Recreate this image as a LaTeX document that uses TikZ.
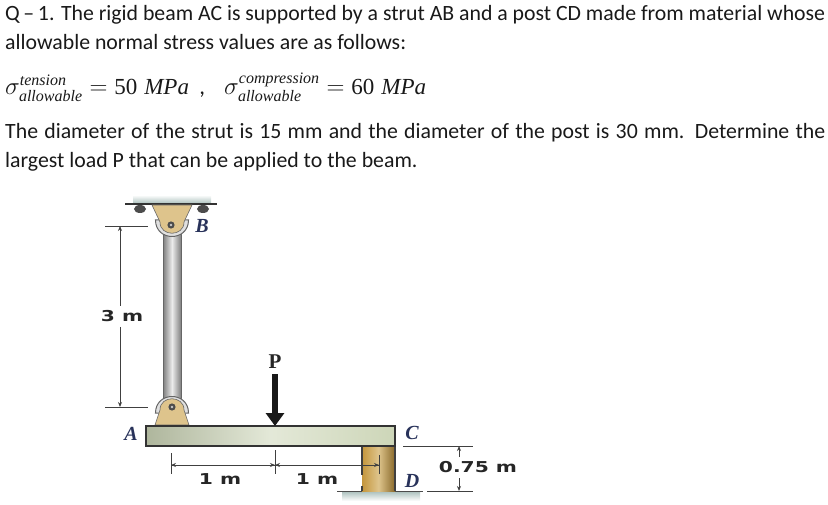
\documentclass[tikz,border=0pt]{standalone}
\usepackage{fontspec}
\usepackage{amsmath}
\setmainfont{Carlito}
\newfontfamily\dimfont{DejaVu Sans}[FakeStretch=1.35]
\newfontfamily\ptfont{Liberation Serif}
\usetikzlibrary{calc,
	positioning,
	arrows.meta}
\DeclareMathSizes{23}{23}{16}{12}
\newcommand{\eqit}[1]{\text{\ptfont\itshape #1}}
\newcommand{\eqrm}[1]{\text{\ptfont #1}}
\definecolor{tan}{RGB}{222,196,140}
\definecolor{postgold}{RGB}{196,150,60}
\definecolor{beamgreen}{RGB}{205,214,184}
\definecolor{letterblue}{RGB}{40,50,90}
\definecolor{soil}{RGB}{168,190,186}
\tikzstyle{body}=[anchor=base west, inner sep=0, font=\fontsize{21.8}{26}\selectfont, text=black!90]
\tikzstyle{eqn}=[anchor=base west, inner sep=0, font=\fontsize{23}{26}\selectfont, text=black!90]
\tikzstyle{pointlbl}=[inner sep=0, text=letterblue, font=\fontsize{20}{22}\ptfont\itshape\bfseries]
\tikzstyle{dimlbl}=[inner sep=0, text=black!85, font=\fontsize{15}{16}\dimfont\bfseries]
\tikzstyle{dim}=[draw=black!75, line width=0.9pt]
\tikzstyle{tick}=[-{Stealth[length=5pt,width=4pt]}, black!75, line width=0.9pt]
\tikzstyle{clevis}=[draw=black!60, fill=tan, line width=0.6pt]
\tikzstyle{collar}=[draw=black!60, fill=black!12, line width=1pt]

\begin{document}
\begin{tikzpicture}[x=1pt, y=-1pt]
	\useasboundingbox (0,0) rectangle (828,505);
	% question text
	\node[body] (line1) at (5,21) {\makebox[820pt][s]{Q\,--\,1. The rigid beam AC is supported by a strut AB and a post CD made from material whose}};
	\node[body] (line2) at (5,50) {allowable normal stress values are as follows:};
	\node[eqn] (eqleft) at (5,95) {$\sigma^{\eqit{tension}}_{\eqit{allowable}}=\eqrm{50}\;\eqit{MPa}$\ \ ,};
	\node[eqn] (eqright) at (224,95) {$\sigma^{\eqit{compression}}_{\eqit{allowable}}=\eqrm{60}\;\eqit{MPa}$};
	\node[body] (line3) at (5,139) {\makebox[820pt][s]{The diameter of the strut is 15 mm and the diameter of the post is 30 mm. Determine the}};
	\node[body] (line4) at (5,168) {largest load P that can be applied to the beam.};
	% ceiling and ground
	\shade[top color=white, bottom color=soil] (133,195) rectangle (211,204);
	\fill[black!70] (140,209) ellipse (6 and 4);
	\fill[black!70] (203,209) ellipse (6 and 4);
	\draw[black!80, line width=1.4pt] (125,204) -- (217,204);
	\shade[top color=soil, bottom color=white] (342,491) rectangle (420,501);
	\draw[black!70, line width=1pt] (337,491) -- (423,491);
	% strut
	\shade[left color=black!50, right color=black!50, middle color=black!8, draw=black!60] (163,234) rectangle (181,400);
	\draw[collar] (155.5,220) .. controls (155.5,242) and (188.5,242) .. (188.5,220) -- cycle;
	\draw[clevis] (152,205) -- (192,205) -- (184,222) .. controls (184,237) and (160,237) .. (160,222) -- cycle;
	\fill[black!70] (171,225) circle (3.6);
	\fill[black!20] (171,225) circle (1.4);
	\draw[collar] (155.5,413) .. controls (155.5,391) and (188.5,391) .. (188.5,413) -- cycle;
	\draw[clevis] (155,425) -- (160,410) .. controls (160,395) and (184,395) .. (184,410) -- (189,425) -- cycle;
	\fill[black!70] (172,407) circle (3.6);
	\fill[black!20] (172,407) circle (1.4);
	% beam and post
	\shade[left color=postgold, right color=postgold!70!black, middle color=tan] (362,446) rectangle (395,491);
	\draw[black!75, line width=1.2pt] (362,446) -- (362,475) (362,486) -- (362,491) (395,446) -- (395,491);
	\shade[left color=beamgreen!85!black, right color=beamgreen, middle color=beamgreen!55!white, draw=black!80, line width=1.8pt] (146,426) rectangle (395,446);
	% load
	\coordinate (ptop) at (275,374);
	\coordinate (pend) at (275,426);
	\draw[-{Triangle[length=13pt,width=18pt]}, black!90, line width=6.5pt] (ptop) -- (pend);
	\node[inner sep=0, font=\fontsize{21}{22}\ptfont\bfseries, text=black!85] (load) at (275,362) {P};
	% letters
	\node[pointlbl] (ptA) at (131,434) {A};
	\node[pointlbl] (ptB) at (202,226) {B};
	\node[pointlbl] (ptC) at (412,433) {C};
	\node[pointlbl] (ptD) at (412,481) {D};
	% 3 m
	\coordinate (htopl) at (105,226);
	\coordinate (htopr) at (148,226);
	\coordinate (hbotl) at (105,407);
	\coordinate (hbotr) at (148,407);
	\node[dimlbl] (hlbl) at (122,316) {3 m};
	\draw[dim] (htopl) -- (htopr) (hbotl) -- (hbotr);
	\draw[tick] (120,306) -- (120,226);
	\draw[tick] (120,327) -- (120,407);
	% 1 m, 1 m
	\coordinate (w1) at (171,465);
	\coordinate (w2) at (275,465);
	\coordinate (w3) at (379,465);
	\draw[dim] (171,453) -- (171,474) (275,450) -- (275,474) (379,455) -- (379,474);
	\draw[tick] (w2) -- (w1);
	\draw[tick] (w1) -- (w2);
	\draw[tick] (w3) -- (w2);
	\draw[tick] (w2) -- (w3);
	\node[dimlbl] (wlbl1) at (220,479) {1 m};
	\node[dimlbl] (wlbl2) at (317,479) {1 m};
	% 0.75 m
	\coordinate (vtopl) at (403,446);
	\coordinate (vtopr) at (473,446);
	\coordinate (vbotl) at (427,491);
	\coordinate (vbotr) at (473,491);
	\draw[dim] (vtopl) -- (vtopr) (vbotl) -- (vbotr);
	\draw[tick] (459,457) -- (459,446);
	\draw[tick] (459,478) -- (459,491);
	\node[dimlbl] (vlbl) at (478,467) {0.75 m};
\end{tikzpicture}
\end{document}
